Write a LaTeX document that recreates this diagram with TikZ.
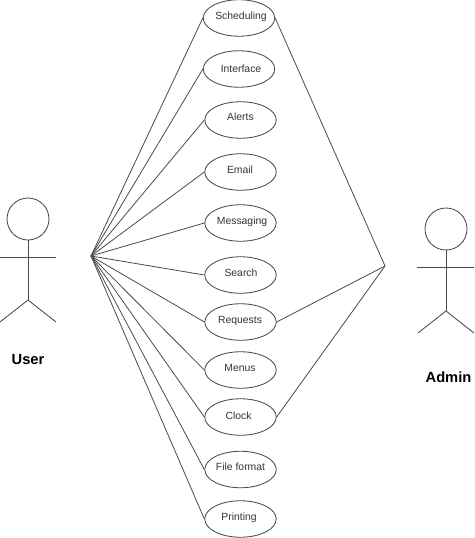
\documentclass[tikz,border=0pt]{standalone}
\usepackage{fontspec}
\setmainfont{Liberation Sans}
\usetikzlibrary{shapes.geometric}
\definecolor{ink}{HTML}{4A4A4A}
\tikzset{
  usecase/.style={draw=ink,line width=0.85pt,ellipse,minimum width=71.5pt,minimum height=36.5pt,inner sep=0pt},
  uclabel/.style={font=\fontsize{10.4}{12}\selectfont,text=black!80,inner sep=0pt,text height=7.5pt,text depth=0pt},
  link/.style={draw=ink,line width=0.8pt},
  stick/.style={draw=ink,line width=0.85pt},
  headc/.style={draw=ink,line width=0.85pt,circle,minimum size=42pt,inner sep=0pt},
  actorname/.style={font=\fontsize{14.7}{16}\selectfont\bfseries,text=black,inner sep=0pt}
}
\begin{document}
\begin{tikzpicture}[x=1pt,y=-1pt]
\useasboundingbox (0,0) rectangle (474,538);
\begin{scope}
\clip (0,0) rectangle (474,538);
\node[usecase] (sch) at (239,18) {};
\node[usecase] (int) at (239,69) {};
\node[usecase] (ale) at (240.5,120) {};
\node[usecase] (ema) at (240.5,172) {};
\node[usecase] (mes) at (240.5,223) {};
\node[usecase] (sea) at (240.5,275) {};
\node[usecase] (req) at (240.5,322) {};
\node[usecase] (men) at (240.5,370) {};
\node[usecase] (clo) at (240.5,417) {};
\node[usecase] (fil) at (240.5,469.5) {};
\node[usecase] (pri) at (240.5,519) {};
\end{scope}
\node[uclabel] (tsch) at (241,16) {Scheduling};
\node[uclabel] (tint) at (241,69) {Interface};
\node[uclabel] (tale) at (240.5,117) {Alerts};
\node[uclabel] (tema) at (240,169.5) {Email};
\node[uclabel] (tmes) at (242,221) {Messaging};
\node[uclabel] (tsea) at (241,273) {Search};
\node[uclabel] (treq) at (240,320) {Requests};
\node[uclabel] (tmen) at (240,368) {Menus};
\node[uclabel] (tclo) at (238.5,415.5) {Clock};
\node[uclabel] (tfil) at (240.5,467) {File format};
\node[uclabel] (tpri) at (239,516.5) {Printing};
\coordinate (uhub) at (91,256);
\coordinate (ahub) at (385,266);
\foreach \n in {sch,int,ale,ema,mes,sea,req,men,clo,fil,pri}
  \draw[link] (uhub) -- (\n.west);
\foreach \n in {sch,req,clo}
  \draw[link] (ahub) -- (\n.east);
% User
\node[headc] (uhead) at (28,219) {};
\coordinate (uhip) at (28,300);
\coordinate (uarml) at (0,257); \coordinate (uarmr) at (56,257);
\coordinate (ulegl) at (0,322); \coordinate (ulegr) at (56,322);
\draw[stick] (uhead.south) -- (uhip);
\draw[stick] (uarml) -- (uarmr);
\draw[stick] (ulegl) -- (uhip) -- (ulegr);
\node[actorname] (uname) at (28,359.5) {User};
% Admin
\node[headc] (ahead) at (446,229) {};
\coordinate (ahip) at (446,311);
\coordinate (aarml) at (417,267); \coordinate (aarmr) at (474,267);
\coordinate (alegl) at (418,333); \coordinate (alegr) at (474,333);
\draw[stick] (ahead.south) -- (ahip);
\draw[stick] (aarml) -- (aarmr);
\draw[stick] (alegl) -- (ahip) -- (alegr);
\node[actorname] (aname) at (448.5,377) {Admin};
\end{tikzpicture}
\end{document}
